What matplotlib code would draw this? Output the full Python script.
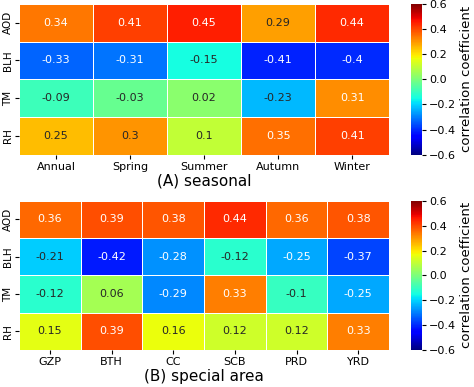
import matplotlib
matplotlib.use('Agg')
import matplotlib.pyplot as plt
import numpy as np
import seaborn as sns

variables = ['AOD', 'BLH', 'TM', 'RH']

seasons = ['Annual', 'Spring', 'Summer', 'Autumn', 'Winter']
season_r = [
    [0.34, 0.41, 0.45, 0.29, 0.44],
    [-0.33, -0.31, -0.15, -0.41, -0.4],
    [-0.09, -0.03, 0.02, -0.23, 0.31],
    [0.25, 0.3, 0.1, 0.35, 0.41],
]

areas = ['GZP', 'BTH', 'CC', 'SCB', 'PRD', 'YRD']
area_r = [
    [0.36, 0.39, 0.38, 0.44, 0.36, 0.38],
    [-0.21, -0.42, -0.28, -0.12, -0.25, -0.37],
    [-0.12, 0.06, -0.29, 0.33, -0.1, -0.25],
    [0.15, 0.39, 0.16, 0.12, 0.12, 0.33],
]

fig = plt.figure(figsize=(4.74, 3.87), dpi=100)


def panel(data, cols, title, ax_rect, cb_rect):
    ax = fig.add_axes(ax_rect)
    cax = fig.add_axes(cb_rect)
    sns.heatmap(np.array(data), ax=ax, cbar_ax=cax, cmap='jet', vmin=-0.6, vmax=0.6,
                annot=True, fmt='g', annot_kws={'fontsize': 8},
                linewidths=0.5, linecolor='white',
                xticklabels=cols, yticklabels=variables,
                cbar_kws={'ticks': [-0.6, -0.4, -0.2, 0.0, 0.2, 0.4, 0.6]})
    ax.tick_params(axis='x', labelsize=8, length=3, pad=2)
    ax.tick_params(axis='y', labelsize=7.5, length=3, pad=1.5)
    ax.set_yticklabels(variables, rotation=90, va='center')
    ax.set_xticklabels(cols, rotation=0)
    ax.set_xlabel(title, fontsize=11, labelpad=1.5)
    cax.tick_params(labelsize=8, length=3, pad=2)
    cax.set_ylabel('correlation coefficient', fontsize=9.5, labelpad=3)
    return ax


panel(season_r, seasons, '(A) seasonal',
      [0.040, 0.600, 0.781, 0.390], [0.867, 0.600, 0.023, 0.390])
panel(area_r, areas, '(B) special area',
      [0.040, 0.096, 0.781, 0.385], [0.867, 0.096, 0.023, 0.385])

fig.savefig('out.png', dpi=100)
